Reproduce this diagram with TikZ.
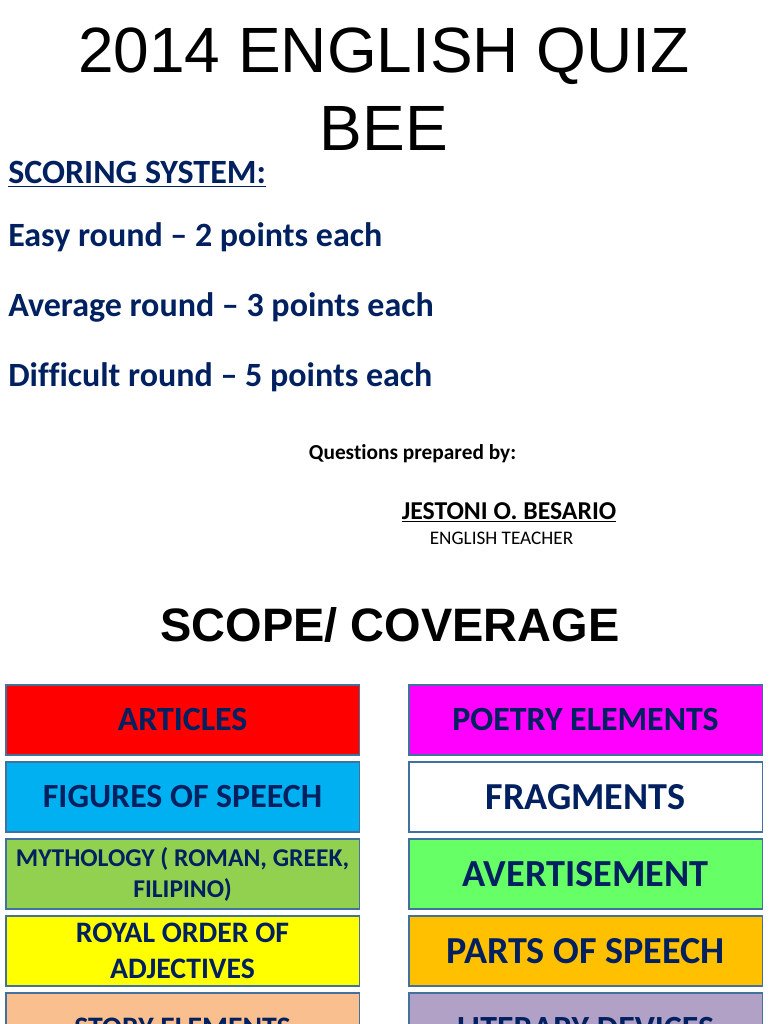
\documentclass[tikz,border=0pt]{standalone}
\usepackage{fontspec}
\setmainfont[Ligatures=NoCommon]{Carlito}
\newfontfamily\arialf{Liberation Sans}
\definecolor{navy}{HTML}{002060}
\definecolor{edge}{HTML}{41719C}
\definecolor{fred}{RGB}{255,0,0}
\definecolor{fblue}{RGB}{0,176,240}
\definecolor{fgreen}{RGB}{146,208,80}
\definecolor{fyellow}{RGB}{255,255,0}
\definecolor{fpeach}{RGB}{250,191,143}
\definecolor{fmagenta}{RGB}{255,0,255}
\definecolor{flime}{RGB}{102,255,102}
\definecolor{forange}{RGB}{255,192,0}
\definecolor{fpurple}{RGB}{178,161,199}
\newcommand{\boxfont}[2]{\fontsize{#1}{#2}\selectfont\bfseries}
\tikzset{
  box/.style={draw=edge,line width=1pt,minimum width=265pt,minimum height=52.5pt,inner sep=0pt,align=center,text=navy},
  head/.style={font=\arialf\fontsize{48}{59}\selectfont,text=black,align=center},
  score/.style={anchor=west,inner sep=0pt,text=navy,font=\fontsize{25.5}{31}\selectfont\bfseries}
}
\begin{document}
\begin{tikzpicture}[x=0.75pt,y=-0.75pt]
\useasboundingbox (0,0) rectangle (768,1024);
\clip (0,0) rectangle (768,1024);
\node[head] (title) at (384,89) {2014 ENGLISH QUIZ\\BEE};
\node[score] (sc) at (8,174) {\underline{SCORING SYSTEM:}};
\node[score] (e) at (8,237) {Easy round – 2 points each};
\node[score] (a) at (8,307) {Average round – 3 points each};
\node[score] (d) at (8,377) {Difficult round – 5 points each};
\node[inner sep=0pt,font=\fontsize{16}{19}\selectfont\bfseries] (q) at (412.5,454) {Questions prepared by:};
\node[inner sep=0pt,font=\fontsize{19.3}{23}\selectfont\bfseries] (j) at (509,512) {\underline{JESTONI O. BESARIO}};
\node[inner sep=0pt,font=\fontsize{14.4}{17}\selectfont] (t) at (501.5,538) {ENGLISH TEACHER};
\node[inner sep=0pt,font=\arialf\fontsize{35.2}{42}\selectfont\bfseries] (s) at (390,625) {SCOPE/ COVERAGE};
\node[box,fill=fred,font=\boxfont{25.4}{30}] (b1) at (182.5,720) {ARTICLES};
\node[box,fill=fblue,font=\boxfont{25.4}{30}] (b2) at (182.5,797) {FIGURES OF SPEECH};
\node[box,fill=fgreen,font=\boxfont{19.2}{23.2}] (b3) at (182.5,874) {MYTHOLOGY ( ROMAN, GREEK,\\FILIPINO)};
\node[box,fill=fyellow,font=\boxfont{22.3}{27}] (b4) at (182.5,951) {ROYAL ORDER OF\\ADJECTIVES};
\node[box,fill=fpeach,font=\boxfont{22.3}{27}] (b5) at (182.5,1028) {STORY ELEMENTS};
\node[box,fill=fmagenta,font=\boxfont{25.4}{30}] (c1) at (585.5,720) {POETRY ELEMENTS};
\node[box,fill=white,font=\boxfont{28.6}{33}] (c2) at (585.5,797) {FRAGMENTS};
\node[box,fill=flime,font=\boxfont{28.7}{33}] (c3) at (585.5,874) {AVERTISEMENT};
\node[box,fill=forange,font=\boxfont{28.6}{33}] (c4) at (585.5,951) {PARTS OF SPEECH};
\node[box,fill=fpurple,font=\boxfont{25.4}{30}] (c5) at (585.5,1028) {LITERARY DEVICES};
\end{tikzpicture}
\end{document}
